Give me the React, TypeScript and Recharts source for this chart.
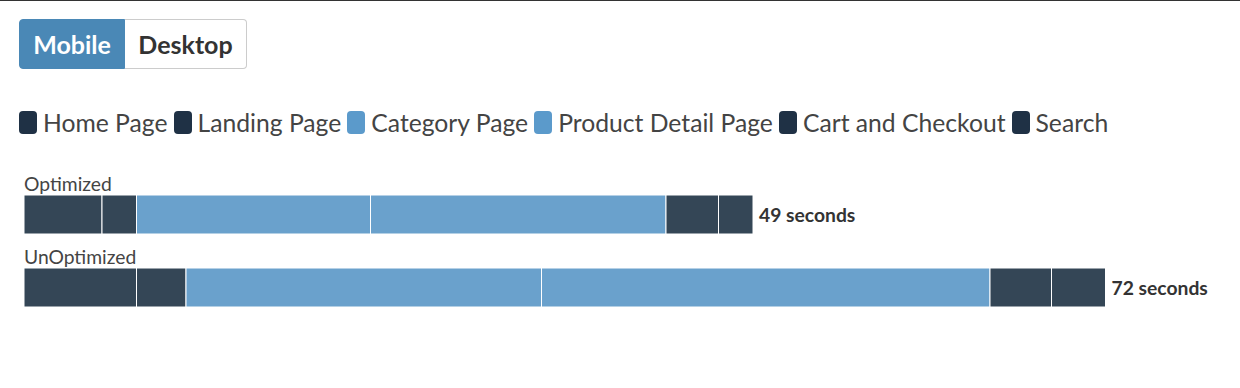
import { Bar, BarChart, LabelList, XAxis, YAxis } from 'recharts';

const categories = ['Home Page', 'Landing Page', 'Category Page', 'Product Detail Page', 'Cart and Checkout', 'Search'];
const seriesKeys = ['home', 'landing', 'category', 'detail', 'cart', 'search'];
const scenarios = ['Optimized', 'UnOptimized'];
const optimizedSeconds = [5.2, 2.3, 15.6, 19.7, 3.5, 2.3];
const unoptimizedSeconds = [7.5, 3.3, 23.7, 29.9, 4.1, 3.6];
const barColors = ['#344656', '#344656', '#6aa1cc', '#6aa1cc', '#344656', '#344656'];
const legendColors = ['#1f3145', '#1f3145', '#5b9acb', '#5b9acb', '#1f3145', '#1f3145'];

const font = 'Lato, "Open Sans", sans-serif';

function buildRow(name: string, values: number[]) {
  const row: Record<string, string | number> = { name };
  seriesKeys.forEach((k, i) => {
    row[k] = values[i];
  });
  row.total = values.reduce((a, b) => a + b, 0);
  return row;
}

const data = [buildRow(scenarios[0], optimizedSeconds), buildRow(scenarios[1], unoptimizedSeconds)];

function ScenarioLabel(props: any) {
  const { x, y, value } = props;
  return (
    <text x={Number(x)} y={Number(y) - 4} fill="#444" fontSize={19.3} fontFamily={font}>
      {value}
    </text>
  );
}

function TotalLabel(props: any) {
  const { x, y, width, height, value } = props;
  return (
    <text
      x={Number(x) + Number(width) + 6}
      y={Number(y) + Number(height) / 2}
      dominantBaseline="central"
      fill="#333"
      fontSize={19.3}
      fontWeight={700}
      fontFamily={font}
    >
      {`${Math.round(Number(value))} seconds`}
    </text>
  );
}

export default function App() {
  return (
    <div
      style={{
        position: 'absolute',
        top: 0,
        left: 0,
        width: 1240,
        height: 388,
        background: '#fff',
        borderTop: '1px solid #333',
        boxSizing: 'border-box',
        fontFamily: font,
      }}
    >
      <div style={{ position: 'absolute', top: 18, left: 19, display: 'flex', height: 50 }}>
        <div
          style={{
            width: 106,
            background: '#4a88b6',
            color: '#fff',
            fontWeight: 700,
            fontSize: 25,
            display: 'flex',
            alignItems: 'center',
            justifyContent: 'center',
            borderRadius: '4px 0 0 4px',
            border: '1px solid #4a88b6',
            boxSizing: 'border-box',
          }}
        >
          Mobile
        </div>
        <div
          style={{
            width: 122,
            background: '#fff',
            color: '#333',
            fontWeight: 700,
            fontSize: 25,
            display: 'flex',
            alignItems: 'center',
            justifyContent: 'center',
            borderRadius: '0 4px 4px 0',
            border: '1px solid #ccc',
            borderLeft: 'none',
            boxSizing: 'border-box',
          }}
        >
          Desktop
        </div>
      </div>

      <div style={{ position: 'absolute', top: 108, left: 19, display: 'flex', alignItems: 'center', height: 26 }}>
        {categories.map((c, i) => (
          <div key={c} style={{ display: 'flex', alignItems: 'center', marginRight: 6 }}>
            <span
              style={{
                display: 'inline-block',
                width: 18,
                height: 23,
                borderRadius: 4,
                background: legendColors[i],
                marginRight: 6,
              }}
            />
            <span style={{ fontSize: 24.7, color: '#444', whiteSpace: 'nowrap' }}>{c}</span>
          </div>
        ))}
      </div>

      <div style={{ position: 'absolute', top: 149, left: 0 }}>
        <BarChart
          width={1240}
          height={184}
          data={data}
          layout="vertical"
          barCategoryGap={0}
          margin={{ top: 28, right: 16, left: 24, bottom: 10 }}
        >
          <XAxis type="number" domain={[0, 80]} hide />
          <YAxis type="category" dataKey="name" hide />
          {seriesKeys.map((k, i) => (
            <Bar
              key={k}
              dataKey={k}
              name={categories[i]}
              stackId="time"
              fill={barColors[i]}
              stroke="#fff"
              strokeWidth={1}
              barSize={39}
              isAnimationActive={false}
            >
              {k === 'home' && <LabelList dataKey="name" content={<ScenarioLabel />} />}
              {k === 'search' && <LabelList dataKey="total" content={<TotalLabel />} />}
            </Bar>
          ))}
        </BarChart>
      </div>
    </div>
  );
}
